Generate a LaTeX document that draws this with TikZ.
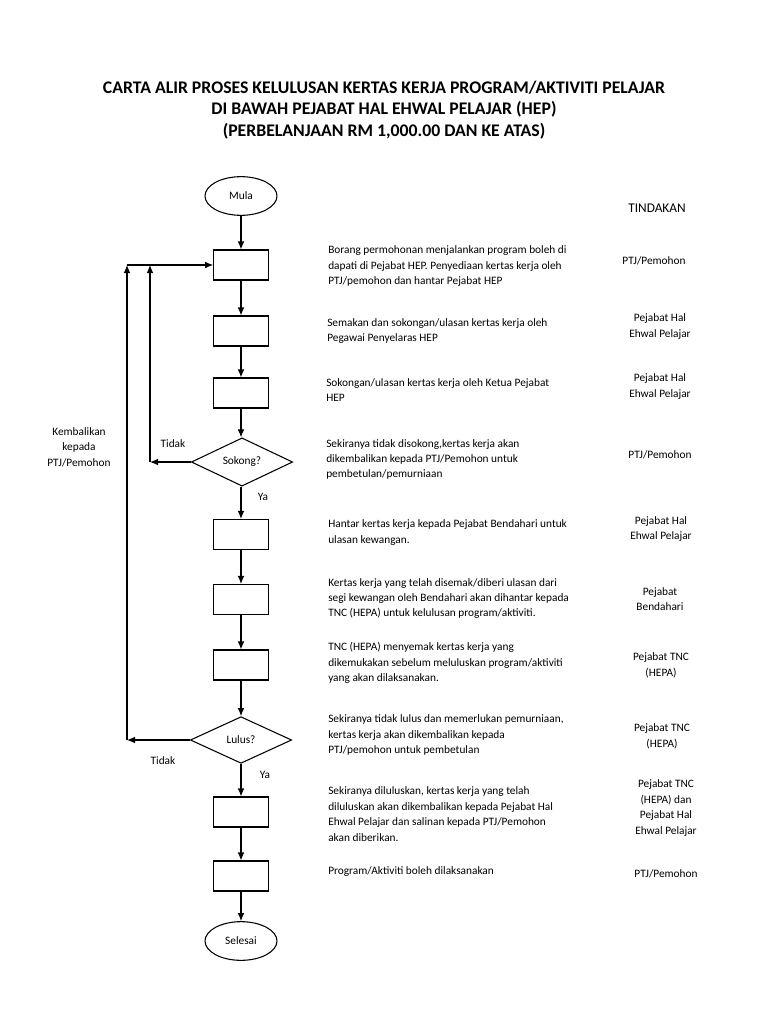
\documentclass[tikz,border=0pt]{standalone}
\usepackage{fontspec}
\setmainfont{Carlito}
\usetikzlibrary{shapes.geometric,arrows.meta}

\tikzset{
  stepbox/.style={draw, line width=0.8pt, minimum width=41pt, minimum height=22.5pt, inner sep=0pt},
  term/.style={draw, ellipse, line width=0.8pt, minimum width=54pt, minimum height=29pt, inner sep=0pt},
  decide/.style={draw, diamond, line width=0.8pt, minimum width=76pt, minimum height=35pt, inner sep=0pt},
  arr/.style={line width=0.8pt, -{Latex[length=6pt,width=5pt]}},
  desc/.style={anchor=west, align=left, inner sep=0pt},
  act/.style={align=center, inner sep=0pt}
}

\begin{document}
\begin{tikzpicture}[x=0.75pt,y=-0.75pt,
  every node/.style={font=\fontsize{8.5}{11.6}\selectfont}]
	    \useasboundingbox (0,0) rectangle (768,1024);
	    % title
	    \node[align=center, font=\fontsize{13.3}{16.2}\selectfont\bfseries] (title) at (384,110)
	        {CARTA ALIR PROSES KELULUSAN KERTAS KERJA PROGRAM/AKTIVITI PELAJAR\\
	         DI BAWAH PEJABAT HAL EHWAL PELAJAR (HEP)\\
	         (PERBELANJAAN RM 1,000.00 DAN KE ATAS)};
	    \node[font=\fontsize{10}{12}\selectfont] (tindakan) at (657,208) {TINDAKAN};

	    % flow
	    \node[term] (mula) at (241,196) {Mula};
	    \node[stepbox] (b1) at (241,265) {};
	    \node[stepbox] (b2) at (241,331) {};
	    \node[stepbox] (b3) at (241,393) {};
	    \node[decide] (sokong) at (242,462) {Sokong?};
	    \node[stepbox] (b4) at (241,534.5) {};
	    \node[stepbox] (b5) at (241,599.5) {};
	    \node[stepbox] (b6) at (241,665) {};
	    \node[decide] (lulus) at (241,740) {Lulus?};
	    \node[stepbox] (b7) at (241,812) {};
	    \node[stepbox] (b8) at (241,876) {};
	    \node[term] (selesai) at (241,941) {Selesai};

	    \draw[arr] (mula) -- (b1);
	    \draw[arr] (b1) -- (b2);
	    \draw[arr] (b2) -- (b3);
	    \draw[arr] (b3) -- (b3 |- sokong.north);
	    \draw[arr] (b4 |- sokong.south) -- (b4);
	    \draw[arr] (b4) -- (b5);
	    \draw[arr] (b5) -- (b6);
	    \draw[arr] (b6) -- (lulus);
	    \draw[arr] (lulus) -- (b7);
	    \draw[arr] (b7) -- (b8);
	    \draw[arr] (b8) -- (selesai);

	    % return lines
	    \coordinate (back1) at (150,265);
	    \coordinate (back2) at (127,265);
	    \coordinate (s1) at (sokong.west -| back1);
	    \coordinate (s2) at (lulus.west -| back2);
	    \draw[arr] (sokong.west) -- (s1);
	    \draw[arr] (s1) -- (back1);
	    \draw[arr] (lulus.west) -- (s2);
	    \draw[arr] (s2) -- (back2);
	    \draw[arr] (back2) -- (b1.west);

	    \node (tidak1) at (173,444) {Tidak};
	    \node (ya1) at (263,497) {Ya};
	    \node (tidak2) at (163,761) {Tidak};
	    \node (ya2) at (265,775) {Ya};
	    \node[align=center] (kembali) at (79,447) {Kembalikan\\kepada\\PTJ/Pemohon};

	    % steps
	    \node[desc] (d1) at (328,266.5) {Borang permohonan menjalankan program boleh di\\dapati di Pejabat HEP. Penyediaan kertas kerja oleh\\PTJ/pemohon dan hantar Pejabat HEP};
	    \node[desc] (d2) at (327,331) {Semakan dan sokongan/ulasan kertas kerja oleh\\Pegawai Penyelaras HEP};
	    \node[desc] (d3) at (326,390) {Sokongan/ulasan kertas kerja oleh Ketua Pejabat\\HEP};
	    \node[desc] (d4) at (326,459.5) {Sekiranya tidak disokong,kertas kerja akan\\dikembalikan kepada PTJ/Pemohon untuk\\pembetulan/pemurniaan};
	    \node[desc] (d5) at (328,532.5) {Hantar kertas kerja kepada Pejabat Bendahari untuk\\ulasan kewangan.};
	    \node[desc] (d6) at (328,598.5) {Kertas kerja yang telah disemak/diberi ulasan dari\\segi kewangan oleh Bendahari akan dihantar kepada\\TNC (HEPA) untuk kelulusan program/aktiviti.};
	    \node[desc] (d7) at (328,663) {TNC (HEPA) menyemak kertas kerja yang\\dikemukakan sebelum meluluskan program/aktiviti\\yang akan dilaksanakan.};
	    \node[desc] (d8) at (328,735) {Sekiranya tidak lulus dan memerlukan pemurniaan,\\kertas kerja akan dikembalikan kepada\\PTJ/pemohon untuk pembetulan};
	    \node[desc] (d9) at (328,814) {Sekiranya diluluskan, kertas kerja yang telah\\diluluskan akan dikembalikan kepada Pejabat Hal\\Ehwal Pelajar dan salinan kepada PTJ/Pemohon\\akan diberikan.};
	    \node[desc] (d10) at (328,872) {Program/Aktiviti boleh dilaksanakan};

	    % tindakan
	    \node[act] (t1) at (654,261) {PTJ/Pemohon};
	    \node[act] (t2) at (660,326.5) {Pejabat Hal\\Ehwal Pelajar};
	    \node[act] (t3) at (660,386.5) {Pejabat Hal\\Ehwal Pelajar};
	    \node[act] (t4) at (660,455) {PTJ/Pemohon};
	    \node[act] (t5) at (661,529) {Pejabat Hal\\Ehwal Pelajar};
	    \node[act] (t6) at (660,599) {Pejabat\\Bendahari};
	    \node[act] (t7) at (661,665.5) {Pejabat TNC\\(HEPA)};
	    \node[act] (t8) at (662,736.5) {Pejabat TNC\\(HEPA)};
	    \node[act] (t9) at (666,808) {Pejabat TNC\\(HEPA) dan\\Pejabat Hal\\Ehwal Pelajar};
	    \node[act] (t10) at (666,874) {PTJ/Pemohon};
	\end{tikzpicture}
\end{document}
